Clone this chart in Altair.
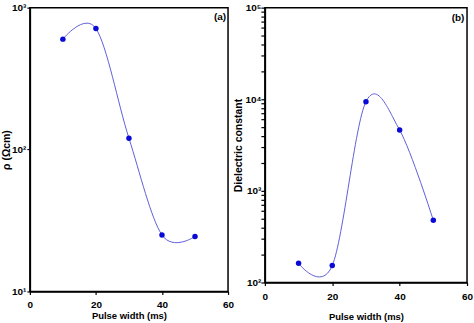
import altair as alt
import pandas as pd

# ---- data ----
pulse = [10, 20, 30, 40, 50]
resistivity = [600, 713, 120, 25, 24.4]
dielectric = [162, 153, 9400, 4610, 477]

x_ticks = [0, 20, 40, 60]
rho_ticks = [10, 100, 1000]
eps_major = [100, 1000, 10000, 100000]
eps_minor = [m * 10 ** e for e in (2, 3, 4) for m in range(2, 10)]

FONT = "Liberation Sans"
LINE_C = "#5f5fd8"
PT_C = "#0a0ad6"

sup_expr = "'10' + ['\u2070','\u00b9','\u00b2','\u00b3','\u2074','\u2075'][round(log(datum.value)/LN10)]"
is_major = "abs(log(datum.value)/LN10 - round(log(datum.value)/LN10)) < 1e-6"


def x_axis(label_pad, title_pad):
    return alt.Axis(values=x_ticks, title="Pulse width (ms)", tickSize=3,
                    labelPadding=label_pad, titlePadding=title_pad,
                    labelFontSize=10, titleFontSize=9.5, labelFlush=False)


# ---- panel (a) ----
df_a = pd.DataFrame({"x": pulse, "y": resistivity})
xa = alt.X("x:Q", scale=alt.Scale(domain=[0, 60], nice=False), axis=x_axis(5, 1))
ya = alt.Y("y:Q", scale=alt.Scale(type="log", domain=[10, 1000], nice=False),
           axis=alt.Axis(values=rho_ticks, labelExpr=sup_expr, title="\u03c1 (\u03a9cm)",
                         tickSize=3, labelPadding=1, titlePadding=0,
                         labelFontSize=10, titleFontSize=10.5))
line_a = alt.Chart(df_a).mark_line(interpolate="cardinal", color=LINE_C, strokeWidth=1).encode(x=xa, y=ya)
pts_a = alt.Chart(df_a).mark_circle(size=30, color=PT_C, opacity=1).encode(x=xa, y=ya)
lab_a = alt.Chart(pd.DataFrame({"t": ["(a)"]})).mark_text(
    font=FONT, fontWeight="bold", fontSize=10, baseline="middle", align="center"
).encode(text="t:N", x=alt.value(191), y=alt.value(9))
panel_a = alt.layer(line_a, pts_a, lab_a).properties(width=199, height=285)

# ---- panel (b) ----
df_b = pd.DataFrame({"x": pulse, "y": dielectric})
xb = alt.X("x:Q", scale=alt.Scale(domain=[0, 60], nice=False), axis=x_axis(6, 10))
yb = alt.Y("y:Q", scale=alt.Scale(type="log", domain=[100, 100000], nice=False),
           axis=alt.Axis(values=eps_major + eps_minor, labelExpr=f"{is_major} ? {sup_expr} : ''",
                         title="Dielectric constant", tickSize=4, tickWidth=1.2,
                         labelPadding=0, titlePadding=1,
                         labelFontSize=10, titleFontSize=10.5))
line_b = alt.Chart(df_b).mark_line(interpolate="cardinal", color=LINE_C, strokeWidth=1).encode(x=xb, y=yb)
pts_b = alt.Chart(df_b).mark_circle(size=30, color=PT_C, opacity=1).encode(x=xb, y=yb)
lab_b = alt.Chart(pd.DataFrame({"t": ["(b)"]})).mark_text(
    font=FONT, fontWeight="bold", fontSize=10, baseline="middle", align="center"
).encode(text="t:N", x=alt.value(194), y=alt.value(10))
panel_b = alt.layer(line_b, pts_b, lab_b).properties(width=203, height=276)

chart = alt.hconcat(panel_a, panel_b, spacing=37, bounds="flush").properties(
    padding={"left": 0, "top": 1, "right": 0, "bottom": 0},
    background="white",
).configure_view(
    stroke="black", strokeWidth=1.5
).configure_axis(
    grid=False, domainColor="black", domainWidth=1.5, tickColor="black", tickWidth=1.2,
    labelFont=FONT, titleFont=FONT, labelFontWeight="bold", titleFontWeight="bold",
    labelColor="black", titleColor="black",
)

chart.save("out.html", embed_options={"renderer": "svg", "actions": False})
